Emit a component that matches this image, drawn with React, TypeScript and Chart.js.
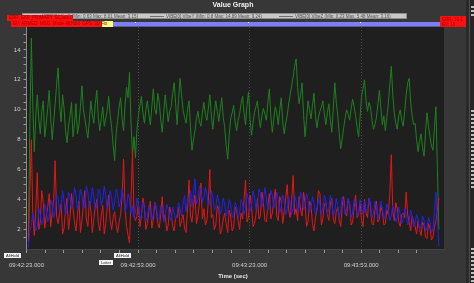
import React, { useEffect, useRef } from "react";
import { Chart, registerables } from "chart.js";
Chart.register(...registerables);

// sample clock (seconds after 09:42:23)
const sampleStart = 0.5;
const sampleStep = 0.4;

// VIBE[0].VibeX (red)
const vibeX = [
  1.2, 4.5, 8.0, 3.0, 1.6, 3.4, 5.8, 2.0, 2.5, 4.6, 3.8, 2.1, 2.9, 3.5, 4.4, 2.2, 3.1, 4.0, 6.6, 2.9,
  2.4, 3.1, 3.7, 1.7, 2.1, 3.3, 4.1, 2.0, 2.8, 4.4, 3.4, 2.5, 1.9, 3.0, 3.9, 1.8, 2.6, 3.6, 4.6, 2.7,
  2.2, 3.9, 3.3, 1.8, 2.7, 3.5, 4.0, 2.5, 1.9, 2.9, 3.6, 1.7, 2.4, 3.4, 4.3, 2.6, 2.0, 2.8, 3.2, 2.3,
  1.8, 2.5, 3.0, 4.2, 6.7, 3.4, 2.2, 1.6, 1.1, 4.0, 7.3, 3.0, 2.6, 2.9, 3.8, 2.2, 2.9, 4.1, 3.5, 2.0,
  2.4, 3.2, 3.9, 2.1, 2.7, 3.8, 3.3, 2.4, 2.1, 3.0, 4.2, 2.6, 3.0, 1.9, 2.3, 3.5, 3.1, 2.2, 1.9, 2.8,
  2.8, 3.5, 2.2, 2.6, 3.0, 2.1, 1.8, 3.4, 5.3, 2.9, 2.5, 3.6, 4.3, 2.4, 2.9, 3.8, 5.1, 2.7, 3.4, 2.3,
  2.6, 3.9, 6.0, 2.8, 3.0, 2.0, 2.3, 3.6, 3.4, 1.7, 2.0, 2.7, 3.1, 2.4, 1.8, 3.3, 2.9, 1.9, 2.2, 3.5,
  3.3, 2.6, 2.0, 3.1, 2.7, 4.0, 5.3, 2.5, 2.8, 4.3, 3.6, 2.2, 2.4, 3.0, 4.1, 2.7, 2.9, 4.5, 3.8, 2.6,
  2.5, 3.6, 4.4, 2.7, 3.1, 3.9, 4.7, 2.9, 2.6, 4.2, 3.9, 2.4, 3.2, 4.1, 5.0, 3.3, 2.8, 4.0, 5.6, 3.0,
  3.4, 2.6, 4.2, 3.3, 2.9, 4.5, 3.8, 2.2, 2.5, 3.9, 3.6, 2.4, 1.9, 2.8, 3.3, 4.6, 4.4, 2.3, 2.7, 3.7,
  3.8, 3.0, 2.6, 3.7, 4.1, 2.7, 2.4, 3.2, 3.5, 2.6, 2.2, 3.6, 4.2, 3.1, 2.9, 4.0, 3.7, 2.3, 2.5, 3.5,
  4.3, 2.8, 3.0, 3.8, 2.6, 2.2, 4.0, 3.1, 2.8, 4.1, 3.5, 2.4, 2.3, 3.3, 3.9, 2.5, 2.7, 3.6, 3.2, 2.3,
  2.4, 3.3, 3.0, 4.4, 7.0, 3.2, 2.6, 3.8, 3.4, 2.5, 2.2, 3.0, 3.1, 2.8, 4.5, 3.0, 2.5, 1.9, 2.9, 2.5,
  2.2, 1.7, 2.6, 2.0, 1.6, 2.5, 2.3, 1.5, 1.4, 2.4, 2.1, 1.3, 1.5, 2.2, 2.6, 3.3, 4.1,
];

// VIBE[0].VibeY (green)
const vibeY = [
  1.5, 9.0, 14.8, 10.2, 7.2, 9.6, 11.0, 9.4, 8.4, 9.9, 10.6, 8.2, 9.0, 10.1, 11.3, 9.5, 8.0, 9.2, 10.4, 11.7,
  12.8, 10.3, 9.2, 11.0, 10.1, 8.6, 7.8, 8.9, 9.6, 10.5, 8.2, 9.1, 10.4, 8.4, 9.0, 10.2, 11.6, 10.0, 9.4, 8.7,
  8.1, 9.3, 10.6, 9.7, 9.1, 10.4, 11.3, 9.5, 8.6, 9.4, 10.2, 8.9, 9.4, 10.0, 10.9, 9.6, 8.8, 7.6, 6.6, 8.4,
  9.3, 10.2, 10.8, 9.4, 8.6, 10.3, 11.5, 10.8, 12.5, 9.1, 7.0, 8.2, 6.8, 8.7, 9.6, 10.3, 10.9, 9.8, 9.1, 10.0,
  10.6, 9.7, 9.0, 10.2, 11.4, 10.0, 9.7, 11.1, 10.5, 9.3, 8.5, 9.8, 11.0, 10.1, 9.2, 9.9, 10.2, 11.1, 11.8, 10.4,
  9.0, 10.7, 12.1, 11.0, 10.0, 9.5, 9.1, 10.0, 10.6, 8.8, 7.3, 8.0, 8.6, 9.4, 9.9, 9.2, 8.9, 9.8, 10.5, 9.7,
  9.3, 10.1, 11.0, 9.6, 8.7, 9.8, 10.6, 9.9, 9.2, 10.1, 10.8, 9.5, 8.8, 7.6, 6.7, 8.3, 9.4, 9.8, 10.3, 9.2,
  8.6, 9.3, 9.7, 10.4, 10.9, 9.8, 9.0, 10.3, 11.2, 9.4, 8.3, 9.1, 9.8, 10.2, 10.6, 9.5, 8.8, 9.6, 10.1, 9.7,
  9.3, 10.5, 11.4, 9.6, 8.5, 9.4, 10.2, 9.8, 9.0, 10.0, 10.8, 9.2, 8.4, 9.1, 9.6, 10.4, 11.0, 11.6, 12.2, 12.9,
  13.4, 11.5, 10.4, 11.0, 11.8, 9.7, 8.2, 9.3, 10.6, 10.0, 9.4, 10.3, 11.1, 9.6, 8.8, 9.5, 9.9, 10.2, 10.6, 9.7,
  9.0, 9.8, 10.4, 9.3, 8.5, 10.1, 11.8, 10.5, 9.6, 8.4, 7.4, 8.1, 8.8, 9.5, 10.0, 9.7, 9.3, 10.1, 10.7, 10.2,
  9.6, 8.8, 8.2, 9.5, 10.9, 11.4, 12.0, 10.6, 9.9, 10.5, 10.2, 9.3, 8.7, 9.0, 9.5, 10.4, 11.3, 10.1, 9.0, 9.6,
  8.6, 9.5, 10.4, 11.7, 12.9, 11.0, 9.8, 9.1, 8.7, 9.6, 10.0, 9.3, 8.9, 9.9, 11.0, 11.8, 12.1, 10.5, 9.6, 9.0,
  9.1, 8.0, 7.2, 7.9, 8.4, 7.5, 6.9, 8.5, 9.8, 8.9, 8.2, 7.6, 7.3, 8.8, 10.2, 6.0, 2.0,
];

// VIBE[0].VibeZ (blue)
const vibeZ = [
  0.8, 1.9, 2.3, 3.1, 2.6, 1.9, 2.2, 3.4, 3.0, 2.3, 2.7, 3.7, 3.3, 2.5, 2.9, 4.0, 3.6, 2.8, 3.2, 4.3,
  4.1, 3.2, 3.5, 4.6, 3.9, 3.0, 3.3, 4.5, 4.2, 3.4, 3.7, 4.8, 4.4, 3.3, 3.8, 4.7, 4.3, 3.4, 3.6, 4.9,
  4.5, 3.5, 3.9, 4.8, 4.2, 3.3, 3.6, 4.7, 4.6, 3.6, 4.0, 4.9, 4.3, 3.4, 3.7, 4.6, 4.1, 3.3, 3.8, 4.7,
  4.4, 3.5, 3.9, 4.7, 4.2, 3.2, 3.5, 4.4, 4.0, 3.1, 3.6, 2.8, 3.2, 4.1, 3.7, 2.7, 3.0, 3.8, 3.4, 2.6,
  2.8, 3.6, 3.3, 2.6, 3.0, 3.8, 3.5, 2.7, 2.7, 3.6, 3.2, 2.5, 2.9, 3.7, 3.4, 2.8, 2.6, 3.5, 3.1, 2.7,
  3.0, 3.8, 3.4, 2.9, 3.7, 4.3, 3.2, 3.9, 3.9, 4.6, 3.5, 4.4, 5.4, 3.7, 4.0, 4.9, 4.6, 3.8, 4.1, 4.8,
  4.4, 3.6, 3.8, 4.6, 4.2, 3.3, 3.5, 4.3, 3.9, 3.0, 3.3, 4.1, 3.7, 2.9, 3.2, 4.0, 3.6, 2.8, 3.0, 3.8,
  3.5, 2.8, 3.1, 4.0, 3.8, 3.0, 3.4, 4.4, 4.0, 3.2, 3.6, 4.6, 4.2, 3.3, 3.7, 4.7, 4.4, 3.5, 3.9, 4.8,
  4.1, 3.3, 3.6, 4.6, 4.3, 3.4, 3.8, 4.5, 4.0, 3.1, 3.5, 4.3, 3.9, 3.0, 3.3, 4.2, 3.7, 3.0, 3.4, 4.3,
  3.9, 3.1, 3.5, 4.5, 4.2, 3.3, 3.6, 4.4, 4.0, 3.1, 3.4, 4.2, 3.8, 3.0, 3.3, 4.1, 3.7, 3.0, 3.5, 4.3,
  3.9, 3.0, 3.4, 4.3, 3.8, 2.9, 3.2, 4.1, 3.6, 2.8, 3.3, 4.2, 3.8, 3.0, 3.4, 4.1, 3.7, 2.8, 3.1, 4.0,
  3.6, 2.9, 3.2, 4.0, 3.5, 3.0, 3.9, 3.2, 3.3, 4.1, 3.7, 2.8, 3.1, 3.9, 3.5, 2.7, 3.2, 3.9, 3.4, 2.7,
  3.0, 3.7, 3.3, 2.6, 2.9, 3.6, 3.2, 2.5, 2.8, 3.5, 3.0, 2.4, 2.7, 3.4, 3.1, 2.3, 2.6, 3.3, 2.9, 2.2,
  2.4, 3.0, 2.7, 2.0, 2.2, 2.9, 2.6, 1.9, 2.1, 2.8, 2.5, 1.8, 2.0, 3.2, 4.5, 2.6, 0.9,
];

const legendLabels = [
  "VIBE[0].VibeX (Min: 0.63 Max: 8.01 Mean: 3.15)",
  "VIBE[0].VibeY (Min: 0.8 Max: 14.89 Mean: 9.24)",
  "VIBE[0].VibeZ (Min: 0.23 Max: 5.48 Mean: 3.16)",
];

const modeLabels = ["AltHold", "AltHold", "Loiter"];
const startClock = 9 * 3600 + 42 * 60 + 23;
const yMin = 0.7;
const yMax = 15.53;
const xMax = 112.27;

const pad2 = (n: number) => (n < 10 ? "0" + n : "" + n);
function fmtTime(t: number) {
  const s = Math.round(startClock + t);
  return `${pad2(Math.floor(s / 3600))}:${pad2(Math.floor((s % 3600) / 60))}:${pad2(s % 60)}.000`;
}
const isMult = (v: number, m: number) => Math.abs(v / m - Math.round(v / m)) < 1e-6;

const FONT = '"Liberation Sans", Arial, sans-serif';

const deco = {
  id: "deco",
  beforeDraw(chart: any) {
    const { ctx, chartArea: a, width, height } = chart;
    ctx.save();
    ctx.fillStyle = "#373737";
    ctx.fillRect(0, 0, width, height);
    ctx.fillStyle = "#1f1f1f";
    ctx.fillRect(a.left, a.top, a.right - a.left, a.bottom - a.top);
    // right side strip / scrollbar
    ctx.fillStyle = "#2a2a2a";
    ctx.fillRect(466, 0, 4, height);
    ctx.fillStyle = "#4c4c4c";
    ctx.fillRect(469, 0, 1, height);
    ctx.fillStyle = "#262626";
    ctx.fillRect(470, 0, 4, height);
    ctx.fillStyle = "#bdbdbd";
    const ranges = [[6, 16], [110, 188], [248, 283]];
    for (const [y0, y1] of ranges) {
      for (let y = y0; y < y1; y += 4) ctx.fillRect(471, y, 3, 2);
    }
    ctx.restore();
  },
  afterDraw(chart: any) {
    const { ctx } = chart;
    ctx.save();
    // title
    ctx.fillStyle = "#f2f2f2";
    ctx.font = `bold 7px ${FONT}`;
    ctx.textAlign = "center";
    ctx.textBaseline = "middle";
    ctx.fillText("Value Graph", 233, 5);

    // legend box
    ctx.fillStyle = "#c8c8c8";
    ctx.fillRect(22, 13, 385, 6);
    ctx.strokeStyle = "#8e8e8e";
    ctx.lineWidth = 1;
    ctx.strokeRect(22.5, 13.5, 384, 5);
    ctx.font = `4.5px ${FONT}`;
    ctx.textAlign = "left";
    ctx.fillStyle = "#505050";
    const items = [
      { lx: 25, tx: 42 },
      { lx: 150, tx: 166 },
      { lx: 279, tx: 295 },
    ];
    items.forEach((it, i) => {
      ctx.strokeStyle = "#707070";
      ctx.beginPath();
      ctx.moveTo(it.lx, 16.5);
      ctx.lineTo(it.lx + 14, 16.5);
      ctx.stroke();
      ctx.fillText(legendLabels[i], it.tx, 16.3);
    });

    // status bars
    ctx.fillStyle = "#ff1010";
    ctx.fillRect(7, 15, 66, 6);
    ctx.fillRect(11, 21, 91, 6);
    ctx.fillRect(440, 16, 26, 11);
    ctx.fillStyle = "#ffff80";
    ctx.fillRect(102, 21, 11, 6);
    ctx.fillStyle = "#7f7ff5";
    ctx.fillRect(113, 22, 327, 4.5);
    ctx.fillStyle = "#ffffff";
    [135, 248, 360].forEach((x) => ctx.fillRect(x, 22, 1, 1));
    ctx.fillStyle = "#a00000";
    ctx.font = `4.5px ${FONT}`;
    ctx.fillText("ERR: EKF_PRIMARY  ECode 0", 9, 18.2);
    ctx.fillText("EV: ARMED  MSG: Mode AltHold  GPS: 3D Fix", 13, 24.2);
    ctx.fillText("ERR: 16-1", 442, 19.5);
    ctx.fillText("EV: 10", 442, 24.5);

    // mode markers
    const marks = [
      { x: 4, y: 253, w: 17 },
      { x: 114, y: 253, w: 17 },
      { x: 99, y: 260, w: 14 },
    ];
    marks.forEach((m, i) => {
      ctx.fillStyle = "#f4f4f4";
      ctx.fillRect(m.x, m.y, m.w, 5);
      ctx.fillStyle = "#202020";
      ctx.font = `4px ${FONT}`;
      ctx.textAlign = "center";
      ctx.fillText(modeLabels[i], m.x + m.w / 2, m.y + 2.7);
    });

    // axis title
    ctx.fillStyle = "#e8e8e8";
    ctx.font = `bold 6px ${FONT}`;
    ctx.textAlign = "center";
    ctx.fillText("Time (sec)", 233, 276);
    ctx.restore();
  },
};

const toPts = (arr: number[]) => arr.map((v, i) => ({ x: sampleStart + i * sampleStep, y: v }));

export default function App() {
  const ref = useRef<HTMLCanvasElement>(null);
  useEffect(() => {
    const chart = new Chart(ref.current as HTMLCanvasElement, {
      type: "line",
      data: {
        datasets: [
          { label: "VIBE[0].VibeZ", data: toPts(vibeZ), borderColor: "rgb(35,35,235)" },
          { label: "VIBE[0].VibeX", data: toPts(vibeX), borderColor: "rgb(230,22,22)" },
          { label: "VIBE[0].VibeY", data: toPts(vibeY), borderColor: "rgb(28,130,28)" },
        ].map((d) => ({ ...d, borderWidth: 1, pointRadius: 0, tension: 0, fill: false })),
      },
      options: {
        animation: false,
        responsive: false,
        events: [],
        layout: { padding: { left: 0, right: 30, top: 27, bottom: 0 } },
        plugins: { legend: { display: false }, tooltip: { enabled: false }, title: { display: false } },
        scales: {
          x: {
            type: "linear",
            min: 0,
            max: xMax,
            afterFit: (s: any) => { s.height = 34; },
            afterBuildTicks: (s: any) => { s.ticks = s.ticks.filter((t: any) => isMult(t.value, 5)); },
            ticks: {
              stepSize: 5,
              autoSkip: false,
              maxRotation: 0,
              padding: 9,
              color: "#d2d2d2",
              font: { size: 6, family: FONT },
              callback: (v: any) => (isMult(Number(v), 30) ? fmtTime(Number(v)) : ""),
            },
            grid: {
              drawOnChartArea: true,
              color: (c: any) => (c.tick && isMult(c.tick.value, 30) ? "rgba(95,95,95,0.75)" : "rgba(0,0,0,0)"),
              tickColor: "#9a9a9a",
              tickLength: 4,
            },
            border: { display: true, color: "#444", dash: [1, 2] },
          },
          y: {
            type: "linear",
            min: yMin,
            max: yMax,
            afterFit: (s: any) => { s.width = 23; },
            afterBuildTicks: (s: any) => { s.ticks = s.ticks.filter((t: any) => isMult(t.value, 0.5)); },
            ticks: {
              stepSize: 0.5,
              autoSkip: false,
              padding: 3,
              color: "#d2d2d2",
              font: { size: 6, family: FONT },
              callback: (v: any) => (isMult(Number(v), 2) ? String(Math.round(Number(v))) : ""),
            },
            grid: { drawOnChartArea: false, tickColor: "#9a9a9a", tickLength: 3 },
            border: { display: true, color: "#8a8a8a" },
          },
        },
      },
      plugins: [deco],
    } as any);
    return () => chart.destroy();
  }, []);
  return (
    <div style={{ position: "fixed", left: 0, top: 0, width: 474, height: 283 }}>
      <canvas ref={ref} width={474} height={283} style={{ display: "block" }} />
    </div>
  );
}
